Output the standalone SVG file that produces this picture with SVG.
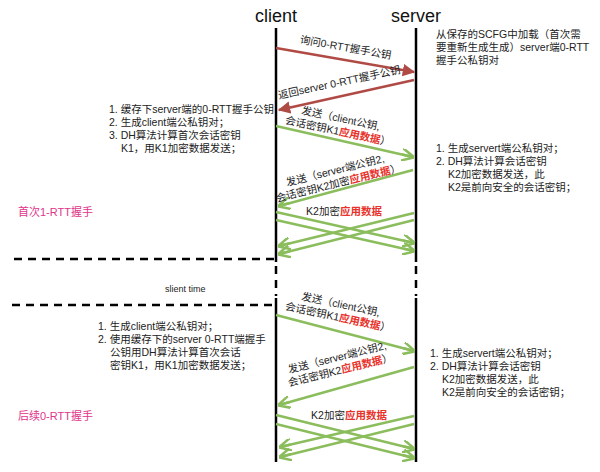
<svg xmlns="http://www.w3.org/2000/svg" width="600" height="472" viewBox="0 0 600 472">
<defs>
<style>
text{font-family:"Liberation Sans","Noto Sans CJK SC",sans-serif;fill:#222;font-size:10.5px}
.h{font-size:18px;text-anchor:middle;fill:#111}
.life{stroke:#000;stroke-width:2.5}
.dash{stroke:#000;stroke-width:2.5;stroke-dasharray:8 6}
.r{stroke:#b04a45;stroke-width:2.5;fill:none;marker-end:url(#mr)}
.g{stroke:#8bbd5d;stroke-width:2.5;fill:none;marker-end:url(#mg)}
.red{fill:#e8322b;font-weight:bold}
.pink{fill:#e0358a;font-size:11px}
.c{text-anchor:middle}
</style>
<marker id="mr" viewBox="0 0 10 10" refX="9" refY="5" markerWidth="5" markerHeight="5" orient="auto"><path d="M0,0 L10,5 L0,10 z" fill="#b04a45"/></marker>
<marker id="mg" viewBox="0 0 10 10" refX="9" refY="5" markerWidth="5" markerHeight="5" orient="auto"><path d="M0,0 L10,5 L0,10 M0,5 L10,5" stroke="#8bbd5d" stroke-width="2" fill="none"/></marker>
</defs>
<g id="client"><text class="h" x="276" y="22">client</text></g>
<g id="server"><text class="h" x="416" y="22">server</text></g>
<g id="lifelines">
<line class="life" x1="276" y1="28" x2="276" y2="262"/>
<line class="life" x1="416" y1="28" x2="416" y2="262"/>
<line class="dash" x1="276" y1="266" x2="276" y2="296"/>
<line class="dash" x1="416" y1="266" x2="416" y2="296"/>
<line class="life" x1="276" y1="298" x2="276" y2="462"/>
<line class="life" x1="416" y1="298" x2="416" y2="462"/>
<line class="dash" x1="14" y1="259" x2="276" y2="259"/>
<line class="dash" x1="12" y1="305" x2="276" y2="305"/>
</g>
<g id="connectors">
<line class="r" x1="276" y1="48" x2="414" y2="72"/>
<line class="r" x1="414" y1="80" x2="279" y2="110"/>
<line class="g" x1="276" y1="126" x2="413" y2="157"/>
<line class="g" x1="413" y1="170" x2="279" y2="206"/>
<line class="g" x1="276" y1="212" x2="414" y2="243"/>
<line class="g" x1="276" y1="220" x2="414" y2="251"/>
<line class="g" x1="414" y1="213" x2="279" y2="246"/>
<line class="g" x1="414" y1="220" x2="279" y2="254"/>
<line class="g" x1="276" y1="315" x2="414" y2="351"/>
<line class="g" x1="414" y1="367" x2="279" y2="405"/>
<line class="g" x1="276" y1="415" x2="414" y2="449"/>
<line class="g" x1="276" y1="424" x2="414" y2="458"/>
<line class="g" x1="414" y1="416" x2="280" y2="447"/>
<line class="g" x1="414" y1="424" x2="280" y2="457"/>
</g>
<g id="labels">
<text class="c" transform="translate(345,51) rotate(10)">询问0-RTT握手公钥</text>
<text class="c" transform="translate(340,86) rotate(-12)">返回server 0-RTT握手公钥</text>
<text class="c" transform="translate(340,122) rotate(12)">发送（client公钥,<tspan x="0" dy="13">会话密钥K1</tspan><tspan class="red">应用数据</tspan>）</text>
<text class="c" transform="translate(336,174) rotate(-14)">发送（server端公钥2,<tspan x="0" dy="13">会话密钥K2加密</tspan><tspan class="red">应用数据</tspan>）</text>
<text class="c" x="344" y="215">K2加密<tspan class="red">应用数据</tspan></text>
<text class="c" transform="translate(340,308) rotate(12)">发送（client公钥,<tspan x="0" dy="13">会话密钥K1</tspan><tspan class="red">应用数据</tspan>）</text>
<text class="c" transform="translate(338,361) rotate(-14)">发送（server端公钥2,<tspan x="0" dy="13">会话密钥K2</tspan><tspan class="red">应用数据</tspan>）</text>
<text class="c" x="349" y="419">K2加密<tspan class="red">应用数据</tspan></text>
</g>
<g id="notes">
<text x="436" y="38">从保存的SCFG中加载（首次需</text>
<text x="436" y="51">要重新生成生成）server端0-RTT</text>
<text x="436" y="64">握手公私钥对</text>
<text x="436" y="152">1. 生成servert端公私钥对；</text>
<text x="436" y="165">2. DH算法计算会话密钥</text>
<text x="448" y="178">K2加密数据发送，此</text>
<text x="448" y="191">K2是前向安全的会话密钥；</text>
<text x="109" y="113">1. 缓存下server端的0-RTT握手公钥</text>
<text x="109" y="126">2. 生成client端公私钥对；</text>
<text x="109" y="139">3. DH算法计算首次会话密钥</text>
<text x="121" y="152">K1，用K1加密数据发送；</text>
<text class="pink" x="18" y="216">首次1-RTT握手</text>
<text x="165" y="292" style="font-size:9px">slient time</text>
<text x="98" y="330">1. 生成client端公私钥对；</text>
<text x="98" y="343">2. 使用缓存下的server 0-RTT端握手</text>
<text x="110" y="356">公钥用DH算法计算首次会话</text>
<text x="110" y="369">密钥K1，用K1加密数据发送；</text>
<text x="430" y="357">1. 生成servert端公私钥对；</text>
<text x="430" y="370">2. DH算法计算会话密钥</text>
<text x="442" y="383">K2加密数据发送，此</text>
<text x="442" y="396">K2是前向安全的会话密钥；</text>
<text class="pink" x="18" y="420">后续0-RTT握手</text>
</g>
</svg>
